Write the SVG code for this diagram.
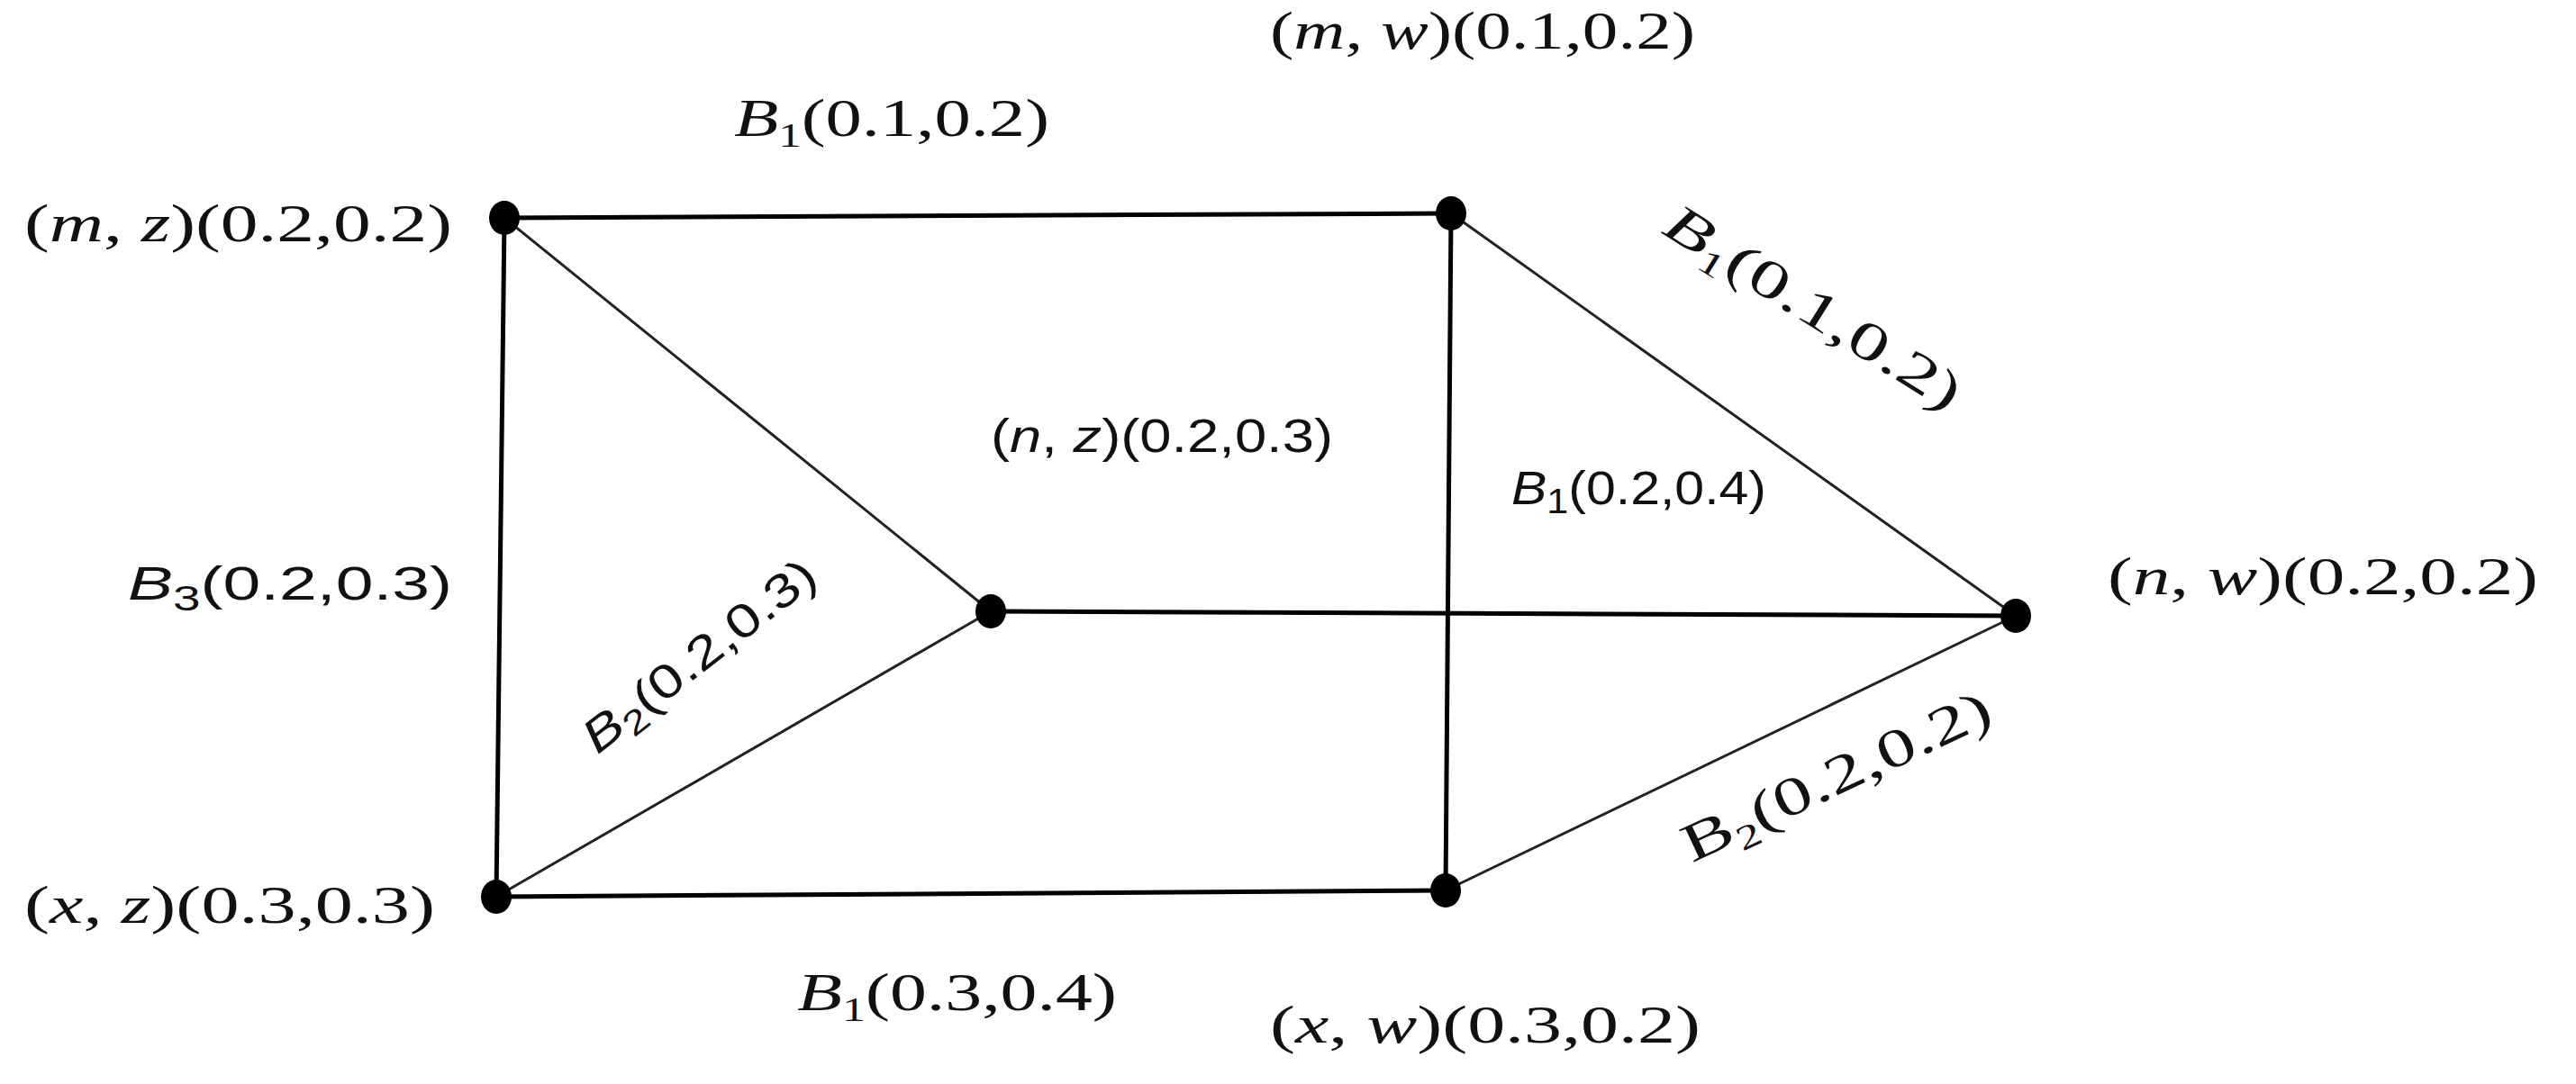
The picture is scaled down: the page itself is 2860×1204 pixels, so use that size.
<svg xmlns="http://www.w3.org/2000/svg" width="2860" height="1204" viewBox="0 0 2860 1204">
<style>
.bg{fill:#ffffff}
.thick{stroke:#000;stroke-width:5;fill:none}
.thin{stroke:#222;stroke-width:3;fill:none}
.dot{fill:#000}
.lbl{font-family:"Liberation Serif","DejaVu Serif",serif;font-size:60px;fill:#111}
.sm{font-family:"Liberation Sans","DejaVu Sans",sans-serif;font-size:52px;fill:#111}
.it{font-style:italic}
.sub{font-size:38px}
</style>
<rect class="bg" x="0" y="0" width="2860" height="1204"/>
<g id="connectors">
<line class="thick" x1="560" y1="242" x2="1611" y2="237"/>
<line class="thick" x1="560" y1="242" x2="551" y2="996"/>
<line class="thin" x1="560" y1="242" x2="1100" y2="679"/>
<line class="thin" x1="1100" y1="679" x2="551" y2="996"/>
<line class="thick" x1="1100" y1="679" x2="2238" y2="684"/>
<line class="thick" x1="1611" y1="237" x2="1605" y2="989"/>
<line class="thin" x1="1611" y1="237" x2="2238" y2="684"/>
<line class="thin" x1="1605" y1="989" x2="2238" y2="684"/>
<line class="thick" x1="551" y1="996" x2="1605" y2="989"/>
</g>
<g id="node-mz"><ellipse class="dot" cx="560" cy="242" rx="17" ry="19"/>
<text class="lbl" x="27" y="268" textLength="475" lengthAdjust="spacingAndGlyphs">(<tspan class="it">m</tspan>, <tspan class="it">z</tspan>)(0.2,0.2)</text></g>
<g id="node-mw"><ellipse class="dot" cx="1611" cy="237" rx="17" ry="19"/>
<text class="lbl" x="1410" y="54" font-size="56" textLength="472" lengthAdjust="spacingAndGlyphs">(<tspan class="it">m</tspan>, <tspan class="it">w</tspan>)(0.1,0.2)</text></g>
<g id="node-nz"><ellipse class="dot" cx="1100" cy="679" rx="17" ry="19"/>
<text class="sm" x="1100" y="502" textLength="380" lengthAdjust="spacingAndGlyphs">(<tspan class="it">n</tspan>, <tspan class="it">z</tspan>)(0.2,0.3)</text></g>
<g id="node-nw"><ellipse class="dot" cx="2238" cy="684" rx="17" ry="19"/>
<text class="lbl" x="2340" y="660" textLength="478" lengthAdjust="spacingAndGlyphs">(<tspan class="it">n</tspan>, <tspan class="it">w</tspan>)(0.2,0.2)</text></g>
<g id="node-xz"><ellipse class="dot" cx="551" cy="996" rx="17" ry="19"/>
<text class="lbl" x="27" y="1025" textLength="456" lengthAdjust="spacingAndGlyphs">(<tspan class="it">x</tspan>, <tspan class="it">z</tspan>)(0.3,0.3)</text></g>
<g id="node-xw"><ellipse class="dot" cx="1605" cy="989" rx="17" ry="19"/>
<text class="lbl" x="1410" y="1158" textLength="478" lengthAdjust="spacingAndGlyphs">(<tspan class="it">x</tspan>, <tspan class="it">w</tspan>)(0.3,0.2)</text></g>
<g id="edge-labels">
<text class="lbl" x="815" y="151" textLength="350" lengthAdjust="spacingAndGlyphs"><tspan class="it">B</tspan><tspan class="sub" dy="12">1</tspan><tspan dy="-12">(0.1,0.2)</tspan></text>
<text class="sm" x="1678" y="560" font-size="42" textLength="283" lengthAdjust="spacingAndGlyphs"><tspan class="it">B</tspan><tspan class="sub" font-size="30" dy="10">1</tspan><tspan dy="-10">(0.2,0.4)</tspan></text>
<text class="sm" x="142" y="666" textLength="360" lengthAdjust="spacingAndGlyphs"><tspan class="it">B</tspan><tspan class="sub" dy="12">3</tspan><tspan dy="-12">(0.2,0.3)</tspan></text>
<text class="lbl" x="885" y="1122" textLength="355" lengthAdjust="spacingAndGlyphs"><tspan class="it">B</tspan><tspan class="sub" dy="12">1</tspan><tspan dy="-12">(0.3,0.4)</tspan></text>
<text class="sm" text-anchor="middle" transform="translate(787,742) rotate(-38)" textLength="314" lengthAdjust="spacingAndGlyphs"><tspan class="it">B</tspan><tspan class="sub" dy="10">2</tspan><tspan dy="-10">(0.2,0.3)</tspan></text>
<text class="lbl" text-anchor="middle" transform="translate(2003,358) rotate(32)" textLength="377" lengthAdjust="spacingAndGlyphs"><tspan class="it">B</tspan><tspan class="sub" dy="12">1</tspan><tspan dy="-12">(0.1,0.2)</tspan></text>
<text class="lbl" text-anchor="middle" transform="translate(2047,880) rotate(-25)" textLength="372" lengthAdjust="spacingAndGlyphs">B<tspan class="sub" dy="12">2</tspan><tspan dy="-12">(0.2,0.2)</tspan></text>
</g>
</svg>
